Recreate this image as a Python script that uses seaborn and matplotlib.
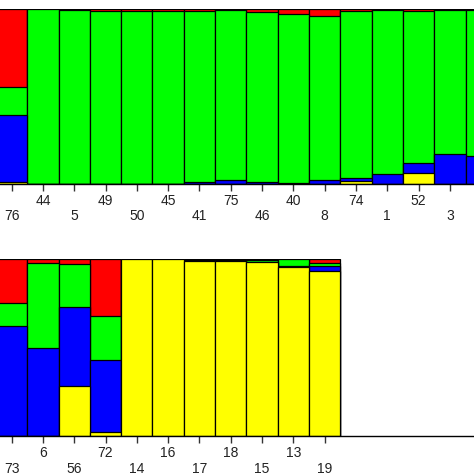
import matplotlib
matplotlib.use("Agg")
import matplotlib.pyplot as plt
import seaborn as sns
import numpy as np

# STRUCTURE-style membership proportions, bottom to top: yellow, blue, green, red
top_labels = ["76", "44", "5", "49", "50", "45", "41", "75", "46", "40", "8", "74", "1", "52", "3", ""]
top_yellow = [0.01, 0, 0, 0, 0, 0, 0, 0, 0, 0, 0, 0.015, 0, 0.06, 0, 0]
top_blue = [0.385, 0, 0.002, 0, 0, 0, 0.01, 0.025, 0.01, 0.005, 0.02, 0.02, 0.055, 0.06, 0.17, 0.16]
top_green = [0.16, 0.998, 0.993, 0.99, 0.99, 0.99, 0.98, 0.97, 0.97, 0.965, 0.94, 0.955, 0.94, 0.87, 0.825, 0.835]
top_red = [0.445, 0.002, 0.005, 0.01, 0.01, 0.01, 0.01, 0.005, 0.02, 0.03, 0.04, 0.01, 0.005, 0.01, 0.005, 0.005]

bot_labels = ["73", "6", "56", "72", "14", "16", "17", "18", "15", "13", "19"]
bot_yellow = [0, 0, 0.28, 0.02, 1.0, 1.0, 0.99, 0.99, 0.985, 0.955, 0.93]
bot_blue = [0.62, 0.5, 0.45, 0.41, 0, 0, 0.005, 0.005, 0, 0.005, 0.03]
bot_green = [0.13, 0.48, 0.24, 0.25, 0, 0, 0, 0, 0.01, 0.04, 0.015]
bot_red = [0.25, 0.02, 0.03, 0.32, 0, 0, 0.005, 0.005, 0.005, 0, 0.025]

colors = ["#ffff00", "#0000ff", "#00ff00", "#ff0000"]

sns.set_style("white")
plt.rcParams["font.family"] = ["Liberation Sans", "DejaVu Sans"]

fig = plt.figure(figsize=(4.74, 4.74), dpi=100)
ax_top = fig.add_axes([0, 1 - 184 / 474, 1, 175 / 474])
ax_bot = fig.add_axes([0, 1 - 436 / 474, 1, 177 / 474])


def structure_panel(ax, labels, comps):
    n = len(labels)
    x = list(range(n))
    cum = np.cumsum(np.array(comps), axis=0)
    # draw cumulative totals from top layer down so each layer shows through
    for k in range(len(comps) - 1, -1, -1):
        sns.barplot(x=x, y=cum[k], color=colors[k], width=1.0, edgecolor="black",
                    linewidth=0.9, saturation=1, ax=ax, native_scale=True)
    ax.set_xlim(-0.37, 14.77)
    ax.set_ylim(0, 1)
    for s in ["top", "right", "left"]:
        ax.spines[s].set_visible(False)
    ax.spines["bottom"].set_color("black")
    ax.spines["bottom"].set_linewidth(1.0)
    ax.set_yticks([])
    ax.set_xticks([i for i in x if labels[i]])
    ax.set_xticklabels([])
    ax.tick_params(axis="x", bottom=True, direction="out", length=5, width=1, color="#333333")
    ax.set_xlabel("")
    ax.set_ylabel("")
    for i, lab in enumerate(labels):
        if not lab:
            continue
        yoff = -0.095 if i % 2 == 1 else -0.185
        ax.text(i, yoff, lab, transform=ax.get_xaxis_transform(), ha="center",
                va="center", fontsize=10, color="#222222")


structure_panel(ax_top, top_labels, [top_yellow, top_blue, top_green, top_red])
structure_panel(ax_bot, bot_labels, [bot_yellow, bot_blue, bot_green, bot_red])

fig.savefig("out.png", dpi=100)
